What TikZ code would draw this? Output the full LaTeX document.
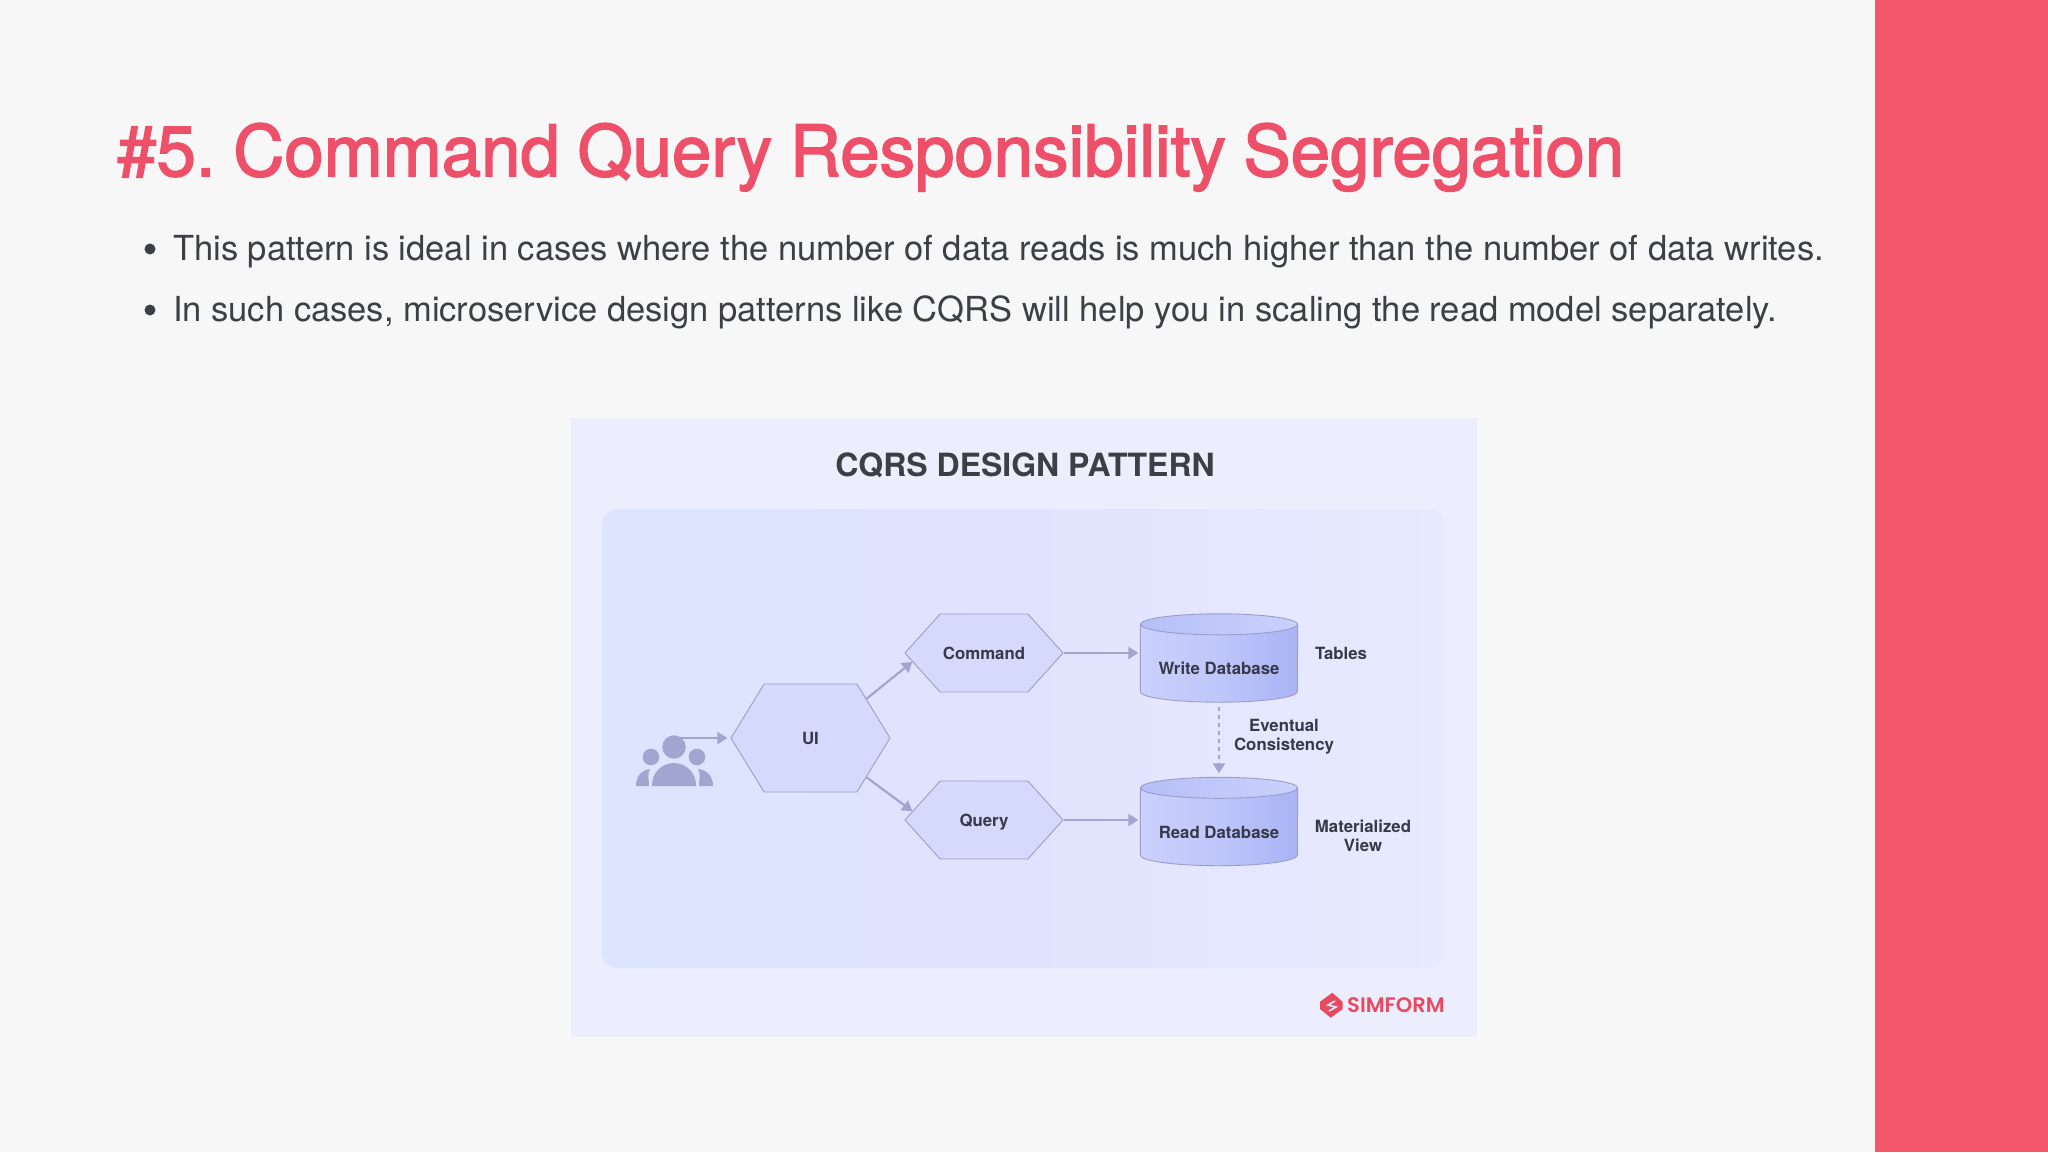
\documentclass[tikz,border=0pt]{standalone}
\usepackage{fontspec}
\setmainfont{TeX Gyre Heros}
\newfontfamily\headfont[FakeBold=2.2,WordSpace=0.9]{TeX Gyre Heros}
\newfontfamily\logofont{Poppins}[FontFace={sb}{n}{* SemiBold}]
\usetikzlibrary{arrows.meta,shapes.symbols}
\frenchspacing
\definecolor{pagebg}{HTML}{F7F7F8}
\definecolor{accent}{HTML}{F4566B}
\definecolor{titlered}{HTML}{EF5069}
\definecolor{textgrey}{HTML}{3C3F44}
\definecolor{labelgrey}{HTML}{363A48}
\definecolor{panelbg}{HTML}{ECEEFE}
\definecolor{panelleft}{HTML}{DCE4FE}
\definecolor{panelmid}{HTML}{E0E3FD}
\definecolor{panelright}{HTML}{E8EBFE}
\definecolor{hexfill}{HTML}{D5D9FC}
\definecolor{edge}{HTML}{9A9EC9}
\definecolor{flow}{HTML}{A2A5CF}
\definecolor{logored}{HTML}{E84A60}
\definecolor{dbleft}{HTML}{CBD1FC}
\definecolor{dbmid}{HTML}{BFC6FA}
\definecolor{dbright}{HTML}{AAB3F6}
\tikzset{
	hexnode/.style={shape=signal, signal to=west and east, draw=edge, fill=hexfill, line width=0.9pt,
		inner sep=0pt, text height=12pt, text depth=0pt, text=labelgrey, font=\bfseries\fontsize{16.8}{19}\selectfont},
	dbnode/.style={minimum width=157pt, minimum height=88pt, inner sep=0pt},
	dbside/.style={draw=edge, line width=0.9pt, left color=dbleft, right color=dbright, middle color=dbmid},
	dbcap/.style={draw=edge, line width=0.9pt, left color=dbright!85!white, right color=dbleft},
	dblabel/.style={text=labelgrey, font=\bfseries\fontsize{16.8}{19}\selectfont, align=center},
	flowline/.style={draw=flow, line width=2.2pt, -{Triangle[length=10pt,width=12pt]}},
	bodytext/.style={anchor=base west, text=textgrey, font=\fontsize{34.5}{40}\selectfont}
}
\newcommand{\dbdraw}[1]{
	\path[dbside] ([yshift=-10.5pt]#1.north west) -- ([yshift=10.5pt]#1.south west) arc (180:360:78.5pt and 10.5pt)
		-- ([yshift=-10.5pt]#1.north east) -- cycle;
	\path[dbcap] ([yshift=-10.5pt]#1.north) ellipse (78.5pt and 10.5pt);
}
\begin{document}
\begin{tikzpicture}[x=1pt,y=-1pt]
	\useasboundingbox (0,0) rectangle (2048,1152);
	\fill[pagebg] (0,0) rectangle (2048,1152);
	\fill[accent] (1875,0) rectangle (2048,1152);

	\node[anchor=base west, text=titlered, font=\headfont\fontsize{70.8}{80}\selectfont, inner sep=0pt] (title) at (117,176)
		{\#5. Command Query Responsibility Segregation};
	\fill[textgrey] (150,249) circle (5.5) (150,310) circle (5.5);
	\node[bodytext, inner sep=0pt] (line1) at (173,260)
		{This pattern is ideal in cases where the number of data reads is much higher than the number of data writes.};
	\node[bodytext, inner sep=0pt] (line2) at (173,321)
		{In such cases, microservice design patterns like CQRS will help you in scaling the read model separately.};

	\fill[panelbg] (571,418) rectangle (1477,1037);
	\shade[rounded corners=15pt, left color=panelleft, right color=panelright, middle color=panelmid] (602,509) rectangle (1444,968);
	\node[text=textgrey, font=\bfseries\fontsize{32}{38}\selectfont] (head) at (1025,465) {CQRS DESIGN PATTERN};

	\node[hexnode, minimum width=159pt, minimum height=108pt, signal pointer angle=117] (ui) at (810.5,738) {UI};
	\node[hexnode, minimum width=158pt, minimum height=78pt, signal pointer angle=96] (cmd) at (984,653) {Command};
	\node[hexnode, minimum width=158pt, minimum height=78pt, signal pointer angle=96] (qry) at (984,820) {Query};

	\node[dbnode] (wdb) at (1219,658) {};
	\node[dbnode] (rdb) at (1219,821.5) {};
	\dbdraw{wdb}
	\dbdraw{rdb}
	\node[dblabel] (wtxt) at (1219,668.5) {Write Database};
	\node[dblabel] (rtxt) at (1219,832) {Read Database};
	\node[dblabel] (tbl) at (1341,653) {Tables};
	\node[dblabel] (ev) at (1284,737) {Eventual\\Consistency};
	\node[dblabel] (mv) at (1363,836) {Materialized\\View};

	\fill[flow] (674,747) circle (11.7) (651,757) circle (8.3) (697,757) circle (8.3);
	\fill[flow] (652,786) -- (652,785) arc (180:0:22pt and 22pt) -- (696,786) -- cycle;
	\fill[flow] (636,786) .. controls (636,776) and (642,770) .. (650,769) .. controls (647,774) and (649,780) .. (649,786) -- cycle;
	\fill[flow] (713,786) .. controls (713,776) and (707,770) .. (698,769) .. controls (701,774) and (699,780) .. (699,786) -- cycle;
	\coordinate (users) at (677,738);

	\draw[flowline, shorten >=3pt] (users) -- (ui.west);
	\draw[flowline] (ui.35) -- (cmd.187);
	\draw[flowline] (ui.-35) -- (qry.173);
	\draw[flowline, shorten >=2pt] (cmd.east) -- (cmd.east -| wdb.west);
	\draw[flowline, shorten >=2pt] (qry.east) -- (qry.east -| rdb.west);
	\draw[draw=flow, line width=2.2pt, dash pattern=on 4pt off 4pt, shorten <=5pt, shorten >=4pt, -{Triangle[length=10pt,width=12pt]}] (wdb.south) -- (rdb.north);

	\fill[logored] (1332.3,992.7) -- (1320,1001.7) -- (1320,1009) -- (1330.7,1017.7) -- (1342.7,1009) -- (1342.7,1002) -- cycle;
	\draw[panelbg, line width=1.6pt] (1335,1001) -- (1328,1005) -- (1336,1007) -- (1329,1011);
	\node[anchor=west, inner sep=0pt, text=logored, font=\logofont\fontseries{sb}\fontsize{21}{24}\selectfont] (logo) at (1347,1005) {SIMFORM};
\end{tikzpicture}
\end{document}
